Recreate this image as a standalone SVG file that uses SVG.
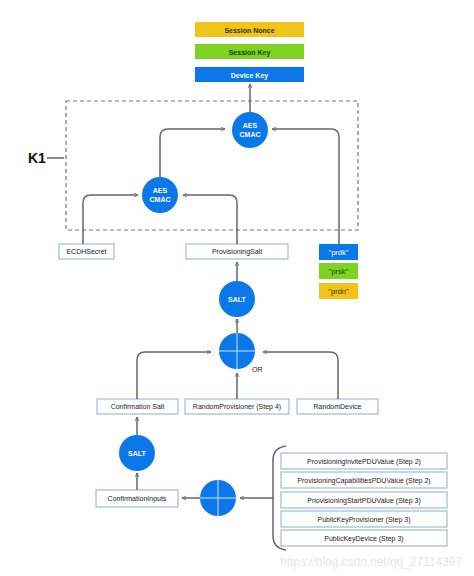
<svg xmlns="http://www.w3.org/2000/svg" width="474" height="576" viewBox="0 0 474 576">
<defs>
<marker id="ah" viewBox="0 0 10 10" refX="9" refY="5" markerWidth="5" markerHeight="5" orient="auto-start-reverse" markerUnits="userSpaceOnUse">
<path d="M1,1 L9,5 L1,9" fill="none" stroke="#666" stroke-width="1.6"/>
</marker>
<style>
.box{fill:#fff;stroke:#9dbdd0;stroke-width:1.2}
.t{font-family:"Liberation Sans",Arial,sans-serif;font-size:7px;fill:#222;text-anchor:middle}
.tb{font-family:"Liberation Sans",Arial,sans-serif;font-size:7px;font-weight:bold;text-anchor:middle}
.tq{font-family:"Liberation Sans",Arial,sans-serif;font-size:7.5px;text-anchor:middle}
.c{fill:#0b78ea}
.ct{font-family:"Liberation Sans",Arial,sans-serif;font-size:7px;font-weight:bold;fill:#fff;text-anchor:middle}
.ln{fill:none;stroke:#666;stroke-width:1.5}
.blue{fill:#0b78ea}
.green{fill:#7ed321}
.yellow{fill:#f0c419}
</style>
</defs>
<rect width="474" height="576" fill="#fff"/>

<g id="session-nonce"><rect class="yellow" x="195" y="22" width="109" height="15"/><text class="tb" x="249.5" y="32.5" fill="#3a3000">Session Nonce</text></g>
<g id="session-key"><rect class="green" x="195" y="44" width="109" height="15"/><text class="tb" x="249.5" y="54.5" fill="#1f3a00">Session Key</text></g>
<g id="device-key"><rect class="blue" x="195" y="67" width="109" height="15"/><text class="tb" x="249.5" y="77.5" fill="#fff">Device Key</text></g>

<g id="k1">
<rect x="66" y="101" width="292" height="129" fill="none" stroke="#777" stroke-width="1.2" stroke-dasharray="4,3"/>
<text x="28" y="163" font-family="Liberation Sans,Arial,sans-serif" font-size="14" font-weight="bold" fill="#111">K1</text>
<line x1="47" y1="158" x2="64" y2="158" stroke="#666" stroke-width="1.5"/>
</g>

<g id="cmac-top"><circle class="c" cx="250" cy="130" r="18"/><text class="ct" x="250" y="128">AES</text><text class="ct" x="250" y="137">CMAC</text></g>
<g id="cmac-low"><circle class="c" cx="160" cy="195" r="18"/><text class="ct" x="160" y="193">AES</text><text class="ct" x="160" y="202">CMAC</text></g>

<g id="ecdh"><rect class="box" x="59" y="244" width="55" height="15"/><text class="t" x="86.5" y="254">ECDHSecret</text></g>
<g id="provsalt"><rect class="box" x="186" y="244" width="102" height="15"/><text class="t" x="237" y="254">ProvisioningSalt</text></g>
<g id="prdk"><rect class="blue" x="319" y="244" width="39" height="16"/><text class="tq" x="338.5" y="254.5" fill="#fff">"prdk"</text></g>
<g id="prsk"><rect class="green" x="319" y="263" width="39" height="16"/><text class="tq" x="338.5" y="273.5" fill="#1f3a00">"prsk"</text></g>
<g id="prdn"><rect class="yellow" x="319" y="283" width="39" height="16"/><text class="tq" x="338.5" y="293.5" fill="#3a3000">"prdn"</text></g>

<g id="salt-top"><circle class="c" cx="237" cy="299" r="18"/><text class="ct" x="237" y="301.5">SALT</text></g>
<g id="xor-top"><circle class="c" cx="237" cy="351" r="18"/><line x1="219" y1="351" x2="255" y2="351" stroke="#cfe4fb" stroke-width="1"/><line x1="237" y1="333" x2="237" y2="369" stroke="#cfe4fb" stroke-width="1"/><text x="252" y="372" font-family="Liberation Sans,Arial,sans-serif" font-size="7" fill="#222">OR</text></g>

<g id="confsalt"><rect class="box" x="97" y="399" width="81" height="15"/><text class="t" x="137.5" y="409">Confirmation Salt</text></g>
<g id="randprov"><rect class="box" x="185" y="399" width="104" height="15"/><text class="t" x="237" y="409">RandomProvisioner (Step 4)</text></g>
<g id="randdev"><rect class="box" x="297" y="399" width="81" height="15"/><text class="t" x="337.5" y="409">RandomDevice</text></g>

<g id="salt-low"><circle class="c" cx="137" cy="453" r="18"/><text class="ct" x="137" y="455.5">SALT</text></g>
<g id="confinputs"><rect class="box" x="96" y="490" width="82" height="17"/><text class="t" x="137" y="501">ConfirmationInputs</text></g>
<g id="xor-low"><circle class="c" cx="218" cy="498" r="18"/><line x1="200" y1="498" x2="236" y2="498" stroke="#cfe4fb" stroke-width="1"/><line x1="218" y1="480" x2="218" y2="516" stroke="#cfe4fb" stroke-width="1"/></g>

<g id="inputs">
<path d="M286,446 Q273,448 273,460 L273,536 Q273,548 286,550" fill="none" stroke="#666" stroke-width="1.5"/>
<rect class="box" x="281" y="453" width="166" height="16"/><text class="t" x="364" y="463.5">ProvisioningInvitePDUValue (Step 2)</text>
<rect class="box" x="281" y="472" width="166" height="16"/><text class="t" x="364" y="482.5">ProvisioningCapabilitiesPDUValue (Step 2)</text>
<rect class="box" x="281" y="492" width="166" height="16"/><text class="t" x="364" y="502.5">PriovisioningStartPDUValue (Step 3)</text>
<rect class="box" x="281" y="511" width="166" height="16"/><text class="t" x="364" y="521.5">PublicKeyProvisioner (Step 3)</text>
<rect class="box" x="281" y="530" width="166" height="16"/><text class="t" x="364" y="540.5">PublicKeyDevice (Step 3)</text>
</g>

<g id="connectors">
<line class="ln" x1="250" y1="112" x2="250" y2="84" marker-end="url(#ah)"/>
<path class="ln" d="M160,177 L160,137 Q160,129 168,129 L225,129" marker-end="url(#ah)"/>
<path class="ln" d="M339,244 L339,137 Q339,129 331,129 L272,129" marker-end="url(#ah)"/>
<path class="ln" d="M83,244 L83,203 Q83,195 91,195 L138,195" marker-end="url(#ah)"/>
<path class="ln" d="M237,244 L237,203 Q237,195 229,195 L183,195" marker-end="url(#ah)"/>
<line class="ln" x1="237" y1="281" x2="237" y2="262" marker-end="url(#ah)"/>
<line class="ln" x1="237" y1="333" x2="237" y2="319" marker-end="url(#ah)"/>
<path class="ln" d="M137,399 L137,360 Q137,352 145,352 L211,352" marker-end="url(#ah)"/>
<path class="ln" d="M338,399 L338,360 Q338,352 330,352 L263,352" marker-end="url(#ah)"/>
<line class="ln" x1="237" y1="399" x2="237" y2="373" marker-end="url(#ah)"/>
<line class="ln" x1="137" y1="435" x2="137" y2="417" marker-end="url(#ah)"/>
<line class="ln" x1="137" y1="490" x2="137" y2="473" marker-end="url(#ah)"/>
<line class="ln" x1="200" y1="498" x2="182" y2="498" marker-end="url(#ah)"/>
<line class="ln" x1="273" y1="498" x2="240" y2="498" marker-end="url(#ah)"/>
</g>

<text x="280" y="566" font-family="Liberation Sans,Arial,sans-serif" font-size="12" textLength="182" lengthAdjust="spacingAndGlyphs" fill="#e6e6e6">https://blog.csdn.net/qq_27114397</text>
</svg>
